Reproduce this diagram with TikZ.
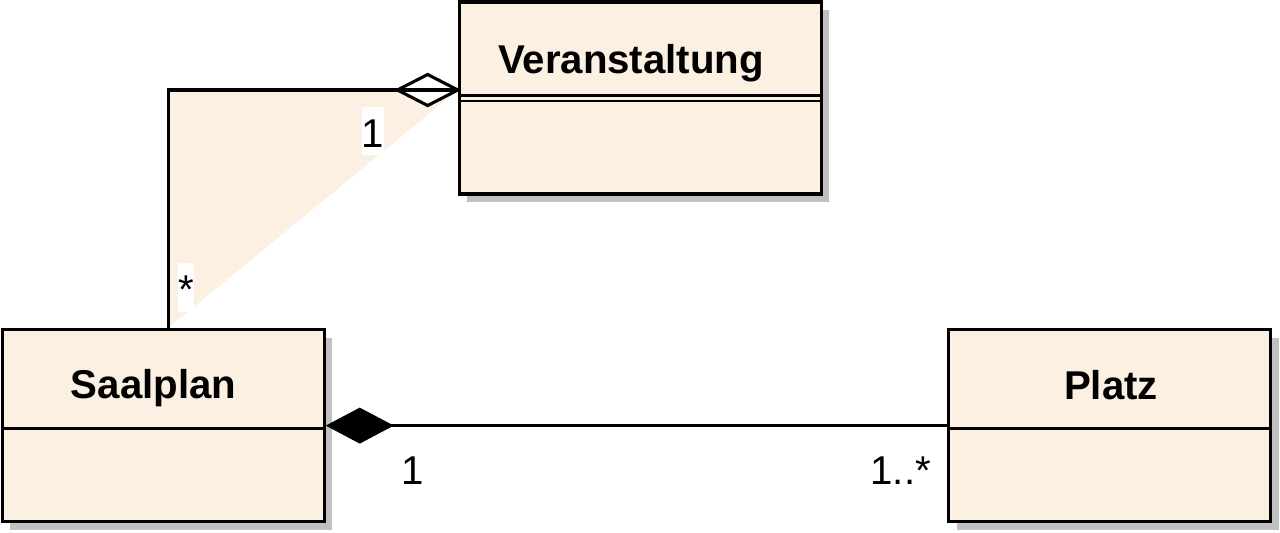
\documentclass[tikz,border=0pt]{standalone}
\usepackage{fontspec}
\newfontfamily\umlfont{Liberation Sans}
\usetikzlibrary{arrows.meta,shapes.geometric,shadows}
\definecolor{umlbg}{RGB}{251,240,225}
\definecolor{umlshadow}{RGB}{192,192,192}

\begin{document}
\begin{tikzpicture}[
	line width=2.2pt,
	class/.style={draw, fill=umlbg, minimum width=8.05cm, minimum height=4.8cm, inner sep=0pt,
		drop shadow={shadow xshift=0.2cm, shadow yshift=-0.2cm, fill=umlshadow, opacity=1}},
	title/.style={anchor=base, font=\umlfont\bfseries\fontsize{28.6pt}{34pt}\selectfont},
	mult/.style={fill=white, inner sep=0pt, text height=28.6pt, text depth=5.7pt,
		font=\umlfont\fontsize{28.6pt}{34pt}\selectfont}]
				\useasboundingbox (0,0) rectangle (32,-13.3);
				
				% classes
				\node[class, minimum width=9.05cm] (v) at (16.01,-2.45) {};
				\node[class] (s) at (4.08,-10.64) {};
				\node[class] (p) at (27.74,-10.64) {};
				
				\draw ([yshift=-2.37cm]v.north west) -- ([yshift=-2.37cm]v.north east);
				\draw[line width=1.5pt] ([yshift=-2.51cm]v.north west) -- ([yshift=-2.51cm]v.north east);
				\draw ([yshift=-2.5cm]s.north west) -- ([yshift=-2.5cm]s.north east);
				\draw ([yshift=-2.5cm]p.north west) -- ([yshift=-2.5cm]p.north east);
				
				\node[title] (vName) at (15.775,-1.825) {Veranstaltung};
				\node[title] (sName) at (3.84,-9.95) {Saalplan};
				\node[title] (pName) at (27.775,-9.975) {Platz};
				
				% aggregation
				\coordinate (aggS) at ([xshift=0.125cm]s.north);
				\coordinate (aggV) at ([yshift=0.2cm]v.west);
				\draw[fill=umlbg] (aggS) |- (aggV);
				\node[diamond, draw, fill=white, inner sep=0pt, outer sep=0pt, minimum width=1.51cm, minimum height=0.775cm, anchor=east] (aggTip) at (aggV) {};
				\draw (aggTip.west) -- (aggTip.east);
				
				% composition
				\draw[-{Diamond[length=1.7cm, width=0.9cm]}] (p.west) -- (s.east);
				
				% multiplicities
				\node[mult] (m1) at (9.32,-3.275) {1};
				\node[mult] (m2) at (4.65,-7.19) {*};
				\node[mult] (m3) at (10.325,-11.7) {1};
				\node[mult] (m4) at (22.52,-11.7) {1..*};
\end{tikzpicture}
\end{document}
